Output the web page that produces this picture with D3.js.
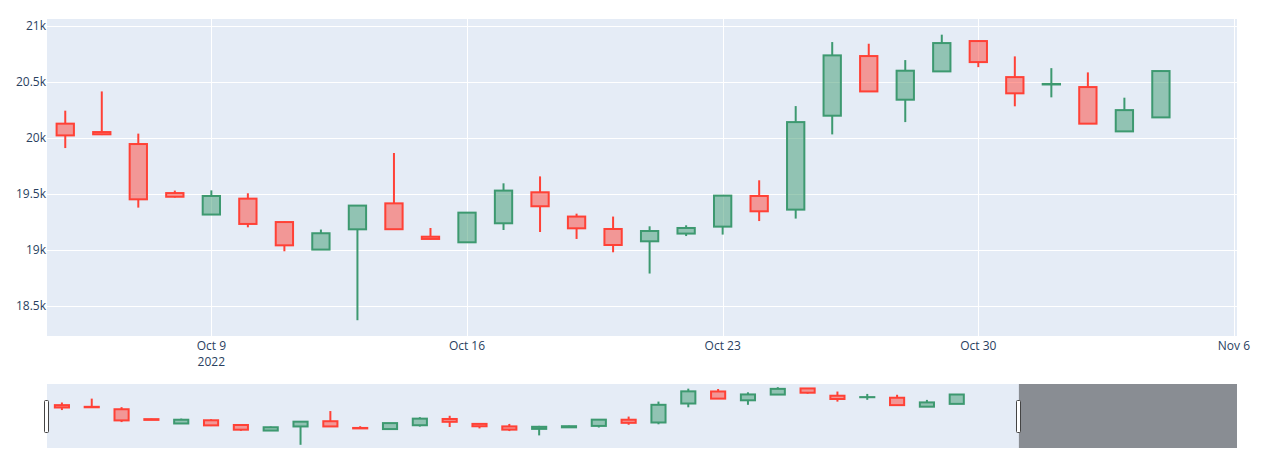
<!DOCTYPE html>
<html><head><meta charset="utf-8">
<script src="https://cdn.jsdelivr.net/npm/d3@7"></script>
<style>
body{margin:0;background:#fff}
svg{display:block}
text{font-family:"Open Sans",verdana,arial,sans-serif}
</style>
</head><body>
<svg id="chart" width="1266" height="474"></svg>
<script>
// ---- data ----
const dates = ["2022-10-05","2022-10-06","2022-10-07","2022-10-08","2022-10-09","2022-10-10","2022-10-11","2022-10-12","2022-10-13","2022-10-14","2022-10-15","2022-10-16","2022-10-17","2022-10-18","2022-10-19","2022-10-20","2022-10-21","2022-10-22","2022-10-23","2022-10-24","2022-10-25","2022-10-26","2022-10-27","2022-10-28","2022-10-29","2022-10-30","2022-10-31","2022-11-01","2022-11-02","2022-11-03","2022-11-04"];
const openVals  = [20125,20050,19943,19505,19313,19455,19246,19000,19181,19413,19115,19065,19235,19512,19295,19184,19074,19143,19205,19479,19357,20196,20729,20339,20592,20863,20541,20475,20452,20056,20181];
const highVals  = [20241,20413,20036,19527,19529,19503,19250,19179,19395,19863,19193,19335,19592,19654,19321,19295,19208,19217,19485,19619,20282,20854,20839,20693,20920,20866,20726,20621,20583,20357,20600];
const lowVals   = [19907,20023,19375,19465,19310,19199,18985,18998,18369,19179,19090,19062,19175,19157,19095,18976,18786,19121,19134,19255,19277,20029,20410,20139,20590,20630,20280,20360,20123,20055,20180];
const closeVals = [20020,20030,19449,19472,19479,19229,19038,19146,19393,19182,19095,19330,19527,19387,19190,19041,19166,19193,19482,19342,20139,20735,20413,20598,20845,20675,20396,20480,20125,20246,20595];

const yTickValues = [18500,19000,19500,20000,20500,21000];
const yTickLabels = ["18.5k","19k","19.5k","20k","20.5k","21k"];
const xTickDates  = ["2022-10-09","2022-10-16","2022-10-23","2022-10-30","2022-11-06"];
const xTickLabels = [["Oct 9","2022"],["Oct 16"],["Oct 23"],["Oct 30"],["Nov 6"]];
const xViewRange   = ["2022-10-04T12:00","2022-11-06T02:00"];
const xSliderRange = ["2022-10-04T12:00","2022-11-13T09:30"];
const yRange = [18228, 21060];

// ---- setup ----
const W = 1266, H = 474;
const plot = {left:47, right:1237, top:19, bottom:336};
const slider = {left:47, right:1237, top:384, bottom:448};
const incColor = "#3D9970", decColor = "#FF4136";
const bg = "#e5ecf6", fontColor = "#2a3f5f";
const pDay = d3.utcParse("%Y-%m-%d");
const pTime = d3.utcParse("%Y-%m-%dT%H:%M");
const DAY = 864e5;

const data = dates.map((d,i)=>({date:pDay(d), o:openVals[i], h:highVals[i], l:lowVals[i], c:closeVals[i]}));

const svg = d3.select("#chart");
svg.append("rect").attr("width",W).attr("height",H).attr("fill","#fff");

const x = d3.scaleUtc().domain(xViewRange.map(pTime)).range([plot.left, plot.right]);
const y = d3.scaleLinear().domain(yRange).range([plot.bottom, plot.top]);
const xs = d3.scaleUtc().domain(xSliderRange.map(pTime)).range([slider.left, slider.right]);
const ys = d3.scaleLinear().domain(yRange).range([slider.bottom, slider.top]);

// main plot background
svg.append("rect").attr("x",plot.left).attr("y",plot.top)
  .attr("width",plot.right-plot.left).attr("height",plot.bottom-plot.top).attr("fill",bg);

// grid
const grid = svg.append("g");
grid.selectAll("line.yg").data(yTickValues).join("line")
  .attr("x1",plot.left).attr("x2",plot.right)
  .attr("y1",d=>Math.round(y(d))+0.5).attr("y2",d=>Math.round(y(d))+0.5)
  .attr("stroke","#fff").attr("stroke-width",1);
grid.selectAll("line.xg").data(xTickDates).join("line")
  .attr("x1",d=>Math.round(x(pDay(d)))+0.5).attr("x2",d=>Math.round(x(pDay(d)))+0.5)
  .attr("y1",plot.top).attr("y2",plot.bottom)
  .attr("stroke","#fff").attr("stroke-width",1);

// y axis labels
svg.append("g").selectAll("text").data(yTickValues).join("text")
  .attr("x",plot.left-1).attr("y",d=>y(d)).attr("dy","0.36em")
  .attr("text-anchor","end").attr("font-size",12).attr("fill",fontColor)
  .text((d,i)=>yTickLabels[i]);

// x axis labels
const xl = svg.append("g").selectAll("text").data(xTickDates).join("text")
  .attr("x",d=>x(pDay(d))).attr("y",349.5)
  .attr("text-anchor","middle").attr("font-size",12).attr("fill",fontColor);
xl.each(function(d,i){
  const t = d3.select(this);
  xTickLabels[i].forEach((s,j)=>{
    t.append("tspan").attr("x",x(pDay(d))).attr("dy", j===0?0:16).text(s);
  });
});

// candles
function drawCandles(g, xsc, ysc, pxPerDay){
  const bw = pxPerDay*0.474;
  const cg = g.selectAll("g.c").data(data).join("g");
  cg.each(function(d){
    const s = d3.select(this);
    const inc = d.c > d.o;
    const col = inc ? incColor : decColor;
    const cx = xsc(d.date);
    const yTop = ysc(Math.max(d.o,d.c)), yBot = ysc(Math.min(d.o,d.c));
    s.append("line").attr("x1",cx).attr("x2",cx).attr("y1",ysc(d.h)).attr("y2",yTop)
      .attr("stroke",col).attr("stroke-width",2);
    s.append("line").attr("x1",cx).attr("x2",cx).attr("y1",yBot).attr("y2",ysc(d.l))
      .attr("stroke",col).attr("stroke-width",2);
    s.append("rect").attr("x",cx-bw/2).attr("y",yTop).attr("width",bw).attr("height",Math.max(0,yBot-yTop))
      .attr("fill",col).attr("fill-opacity",0.5).attr("stroke",col).attr("stroke-width",2);
  });
}
const mainDay = x(new Date(DAY*2)) - x(new Date(DAY));
drawCandles(svg.append("g"), x, y, mainDay);

// range slider
svg.append("rect").attr("x",slider.left).attr("y",slider.top)
  .attr("width",slider.right-slider.left).attr("height",slider.bottom-slider.top).attr("fill",bg);
const sliderDay = xs(new Date(DAY*2)) - xs(new Date(DAY));
drawCandles(svg.append("g"), xs, ys, sliderDay);

const selStart = xs(pTime(xViewRange[0])), selEnd = xs(pTime(xViewRange[1]));
svg.append("rect").attr("x",selEnd).attr("y",slider.top)
  .attr("width",slider.right-selEnd).attr("height",slider.bottom-slider.top)
  .attr("fill","#000").attr("fill-opacity",0.4);
if (selStart > slider.left) {
  svg.append("rect").attr("x",slider.left).attr("y",slider.top)
    .attr("width",selStart-slider.left).attr("height",slider.bottom-slider.top)
    .attr("fill","#000").attr("fill-opacity",0.4);
}
const hH = 32, hW = 4;
const midS = (slider.top+slider.bottom)/2;
[selStart, selEnd].forEach(px=>{
  svg.append("rect").attr("x",Math.round(px)-hW/2-0.5).attr("y",midS-hH/2+0.5)
    .attr("width",hW).attr("height",hH).attr("rx",1)
    .attr("fill","#fff").attr("stroke","#444").attr("stroke-width",1);
});
</script>
</body></html>
